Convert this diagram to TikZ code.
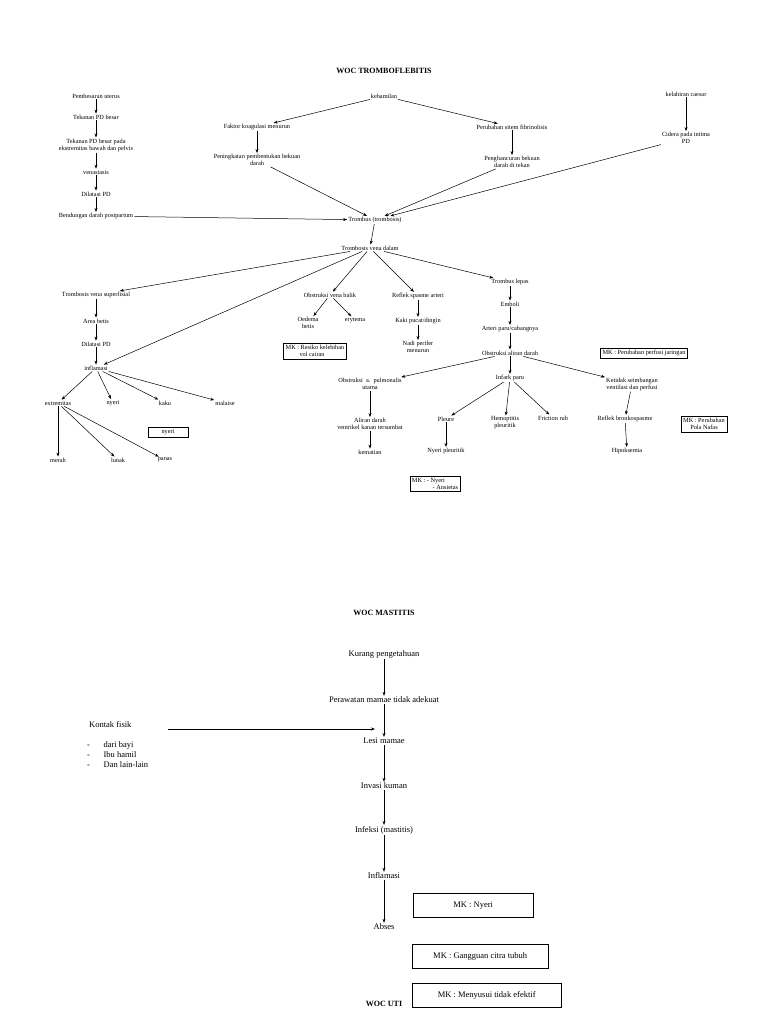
\documentclass[tikz,border=0pt]{standalone}
\usepackage{fontspec}
\setmainfont{Liberation Serif}
\usetikzlibrary{positioning,arrows.meta}
\tikzset{
  t/.style={inner sep=1pt,align=center,font=\fontsize{6.3}{7}\selectfont},
  tb/.style={t,draw,inner sep=2pt},
  m/.style={inner sep=1pt,align=center,font=\fontsize{8.5}{10}\selectfont},
  mb/.style={m,draw,minimum height=24pt,inner sep=2pt},
  ttl/.style={font=\bfseries\fontsize{8}{9}\selectfont},
  ar/.style={-{Stealth[length=4pt,width=3pt]},line width=0.5pt},
}
\begin{document}
\begin{tikzpicture}[x=1pt,y=-1pt]
\useasboundingbox (0,0) rectangle (768,1024);
% --- WOC trombofleblitis ---
\node[ttl] at (384,71) {WOC TROMBOFLEBITIS};
\node[t] (pu) at (96,96) {Pembesaran uterus};
\node[t] (tk) at (96,117) {Tekanan PD besar};
\node[t] (tke) at (96,145) {Tekanan PD besar pada\\ekstremitas bawah dan pelvis};
\node[t] (vs) at (96,172) {venastasis};
\node[t] (dl) at (96,194) {Dilatasi PD};
\node[t] (bd) at (96,216) {Bendungan darah postpartum};
\node[t] (kh) at (384,96) {kehamilan};
\node[t] (fk) at (257,127) {Faktor koagulasi menurun};
\node[t] (pp) at (257,160) {Peningkatan pembentukan bekuan\\darah};
\node[t] (pf) at (512,127) {Perubahan sitem fibrinolisis};
\node[t] (ph) at (512,162) {Penghancuran bekuan\\darah di tekan};
\node[t] (kc) at (686,94) {kelahiran caesar};
\node[t] (ci) at (686,138) {Cidera pada intima\\PD};
\node[t] (tr) at (375,220) {Trombus (trombosis)};
\node[t] (tvd) at (370,248) {Trombosis vena dalam};
\node[t] (tvs) at (96,295) {Trombosis vena superfisial};
\node[t] (ab) at (96,321) {Area betis};
\node[t] (dl2) at (96,344) {Dilatasi PD};
\node[t] (inf) at (96,368) {inflamasi};
\node[t] (ex) at (58,403) {extremitas};
\node[t] (ny) at (113,403) {nyeri};
\node[t] (kk) at (165,403) {kaku};
\node[t] (ml) at (225,403) {malaise};
\node[tb,minimum width=40pt] (nyb) at (168,432) {nyeri};
\node[t] (mr) at (58,460) {merah};
\node[t] (ln) at (118,460) {lunak};
\node[t] (pn) at (165,460) {panas};
\node[t] (ovb) at (330,295) {Obstruksi vena balik};
\node[t] (oe) at (308,323) {Oedema\\betis};
\node[t] (er) at (355,320) {erytema};
\node[tb,align=left] (mk1) at (315,351) {MK\ : Resiko kelebihan\\\hspace{2.2em}vol cairan};
\node[t] (rs) at (418,296) {Reflek spasme arteri};
\node[t] (kp) at (418,321) {Kaki pucat/dingin};
\node[t] (np) at (418,347) {Nadi perifer\\menurun};
\node[t] (tl) at (510,282) {Trombus lepas};
\node[t] (em) at (510,304) {Emboli};
\node[t] (ap) at (510,329) {Arteri paru/cabangnya};
\node[t] (oa) at (510,353) {Obstruksi aliran darah};
\node[tb] (mk2) at (644,353) {MK : Perubahan perfusi jaringan};
\node[t] (oap) at (370,384) {Obstruksi\ \ a.\ \ pulmonalis\\utama};
\node[t] (adv) at (370,424) {Aliran darah\\ventrikel kanan tersumbat};
\node[t] (km) at (370,452) {kematian};
\node[t] (ip) at (510,378) {Infark paru};
\node[t] (pl) at (446,419) {Pleure};
\node[t] (hp) at (505,423) {Hemoptitis\\pleuritik};
\node[t] (fr) at (553,418) {Friction rub};
\node[t] (npl) at (446,451) {Nyeri pleuritik};
\node[tb,align=left] (mk3) at (435,484) {MK : - Nyeri\\\hspace{3.3em}- Ansietas};
\node[t] (ks) at (632,384) {Ketidak seimbangan\\ventilasi dan perfusi};
\node[t] (rb) at (625,419) {Reflek bronkospasme};
\node[t] (hk) at (627,451) {Hipoksemia};
\node[tb] (mk4) at (704,424) {MK : Perubahan\\Pola Nafas};
\foreach \a/\b in {pu/tk,tk/tke,tke/vs,vs/dl,dl/bd,kh/fk,kh/pf,fk/pp,pf/ph,kc/ci,
  pp/tr,ph/tr,ci/tr,bd/tr,tr/tvd,tvd/tvs,tvd/inf,tvd/ovb,tvd/rs,tvd/tl,
  tvs/ab,ab/dl2,dl2/inf,inf/ex,inf/ny,inf/kk,inf/ml,ex/mr,ex/ln,ex/pn,
  ovb/oe,ovb/er,rs/kp,kp/np,tl/em,em/ap,ap/oa,oa/oap,oa/ip,oa/ks,
  oap/adv,adv/km,ip/pl,ip/hp,ip/fr,pl/npl,ks/rb,rb/hk}
  \draw[ar] (\a) -- (\b);
% --- WOC mastitis ---
\node[ttl] at (384,613) {WOC MASTITIS};
\node[m] (kpg) at (384,654) {Kurang pengetahuan};
\node[m] (pm) at (384,700) {Perawatan mamae tidak adekuat};
\node[m] (lm) at (384,741) {Lesi mamae};
\node[m] (ik) at (384,786) {Invasi kuman};
\node[m] (im) at (384,830) {Infeksi (mastitis)};
\node[m] (ifl) at (384,876) {Inflamasi};
\node[m] (abs) at (384,927) {Abses};
\node[m,anchor=west] (kf) at (88,725) {Kontak fisik};
\node[m,anchor=north west,align=left] (lst) at (86,740) {-\hspace{1.6em}dari bayi\\-\hspace{1.6em}Ibu hamil\\-\hspace{1.6em}Dan lain-lain};
\coordinate (kfe) at (375,729);
\draw[ar] (168,729) -- (kfe);
\node[mb,minimum width=120pt,anchor=north west] (mk5) at (413,893) {MK : Nyeri};
\node[mb,minimum width=136pt,anchor=north west] (mk6) at (412,944) {MK : Gangguan citra tubuh};
\node[mb,minimum width=149pt,anchor=north west] (mk7) at (412,983) {MK : Menyusui tidak efektif};
\node[ttl] at (384,1004) {WOC UTI};
\foreach \a/\b in {kpg/pm,pm/lm,lm/ik,ik/im,im/ifl,ifl/abs}
  \draw[ar] (\a) -- (\b);
\end{tikzpicture}
\end{document}
